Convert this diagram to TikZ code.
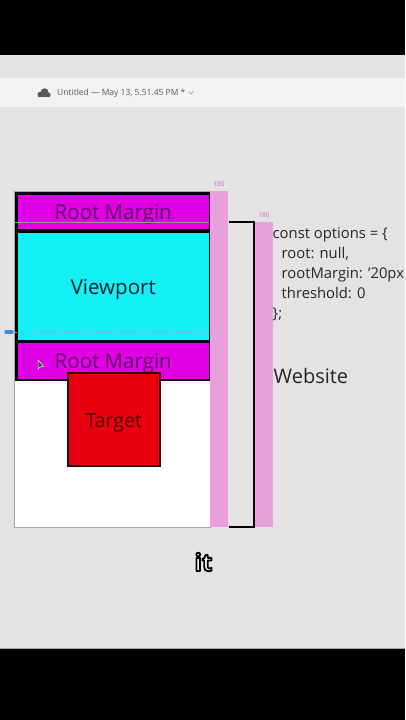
\documentclass[tikz,border=0pt]{standalone}
\usepackage{fontspec}
\setmainfont{Open Sans}
\usetikzlibrary{positioning,calc}
\definecolor{bggray}{HTML}{E3E3E3}
\definecolor{barlight}{HTML}{F3F3F3}
\definecolor{rootmag}{HTML}{E100E6}
\definecolor{rootink}{HTML}{5E0A66}
\definecolor{viewcyan}{HTML}{12F0F8}
\definecolor{targetred}{HTML}{E8000E}
\definecolor{targetink}{HTML}{5A0008}
\definecolor{rulerpink}{HTML}{E8A0DC}
\definecolor{rulerink}{HTML}{D060C8}
\definecolor{handleblue}{HTML}{3C8CDC}

\tikzset{
  marginbox/.style={draw=black, line width=2.5pt, fill=rootmag, text=rootink,
    font=\fontsize{20.5}{20.5}\selectfont, inner sep=0pt, anchor=north west,
    text height=15.5pt, text depth=0pt},
  viewbox/.style={draw=black, line width=2.5pt, fill=viewcyan, text=black!85,
    font=\fontsize{20.5}{20.5}\selectfont, inner sep=0pt, anchor=north west,
    text height=15.5pt, text depth=0pt},
  targetbox/.style={draw=black!80!red, line width=1.5pt, fill=targetred, text=targetink,
    font=\fontsize{19.5}{19.5}\selectfont, inner sep=0pt, anchor=north west,
    text height=17pt, text depth=0pt},
  ruler/.style={fill=rulerpink},
  rulerlabel/.style={text=rulerink, font=\fontsize{6.5}{6.5}\selectfont, inner sep=0pt},
  codetext/.style={text=black!85, font=\fontsize{14.8}{20}\selectfont, align=left,
    inner sep=0pt, anchor=north west}
}

\begin{document}
\begin{tikzpicture}[x=1pt,y=-1pt]
  \useasboundingbox (0,0) rectangle (405,720);
  % screen background
  \fill[black] (0,0) rectangle (405,55);
  \fill[bggray] (0,55) rectangle (405,648);
  \fill[barlight] (0,78) rectangle (405,107);
  \fill[black] (0,649) rectangle (405,720);
  \draw[gray!70, line width=1pt] (0,648) -- (405,648);

  % title bar
  \fill[black!65] (40,94.5) circle (2.6);
  \fill[black!65] (44.5,92.3) circle (4);
  \fill[black!65] (48.3,94.8) circle (2.3);
  \fill[black!65] (38.2,94.5) rectangle (50.4,97.1);
  \node[anchor=west, inner sep=0pt, text=black!65, font=\fontsize{8.5}{8.5}\selectfont] (title) at (57,93)
    {Untitled --- May 13, 5.51.45 PM *};
  \draw[black!45, line width=0.6pt] (188.5,91.5) -- (191,94) -- (193.5,91.5);

  % page area
  \coordinate (page nw) at (14,191);
  \coordinate (page se) at (210,527);
  \filldraw[fill=white, draw=black!35, line width=1pt] (page nw) rectangle (page se);

  \node[marginbox, minimum width=194, minimum height=37] (top margin) at (15,192) {Root Margin};
  \draw[black!40, line width=0.8pt] (15,222) -- (209,222);
  \node[viewbox, minimum width=194, minimum height=109] (viewport) at (15,230.5) {Viewport};
  \node[marginbox, minimum width=194, minimum height=38] (bottom margin) at (15,340.5) {Root Margin};
  \node[targetbox, minimum width=92, minimum height=93] (target) at (67,372) {Target};

  % scroll line
  \coordinate (scroll l) at (15,332);
  \coordinate (scroll r) at (209,332);
  \draw[handleblue!70, line width=0.6pt, dash pattern=on 2pt off 1.5pt] (scroll l) -- (scroll r);
  \draw[handleblue, line width=3.5pt, line cap=round] (6,332) -- (12,332);

  % cursor
  \filldraw[fill=black!75, draw=white, line width=0.5pt] (38,360) -- (38,369) -- (40.2,367) -- (43.5,366.2) -- cycle;

  % rulers
  \fill[ruler] (210,191) rectangle (228,527);
  \node[rulerlabel] (ruler a) at (219,184.5) {180};
  \fill[ruler] (255,222) rectangle (273,527);
  \node[rulerlabel] (ruler b) at (264,215.5) {180};
  \draw[black, line width=1.8pt] (229,222) -- (254,222) -- (254,527) -- (229,527);

  % code
  \node[codetext] (code) at (272.5,227)
    {const options = \{\\
     \hspace*{9pt}root: null,\\
     \hspace*{9pt}rootMargin: '20px\\
     \hspace*{9pt}threshold: 0\\
     \};};
  \node[anchor=west, inner sep=0pt, text=black!85, font=\fontsize{20}{20}\selectfont] (website) at (273.5,376) {Website};

  % caption, outlined letters
  \node[text=white, font=\fontsize{24}{24}\selectfont\bfseries, inner sep=0pt] (caption) at (203.5,562)
    {\special{pdf:literal direct 0 G 1.8 w 1 j 2 Tr}it\special{pdf:literal direct 0 Tr}};
\end{tikzpicture}
\end{document}
